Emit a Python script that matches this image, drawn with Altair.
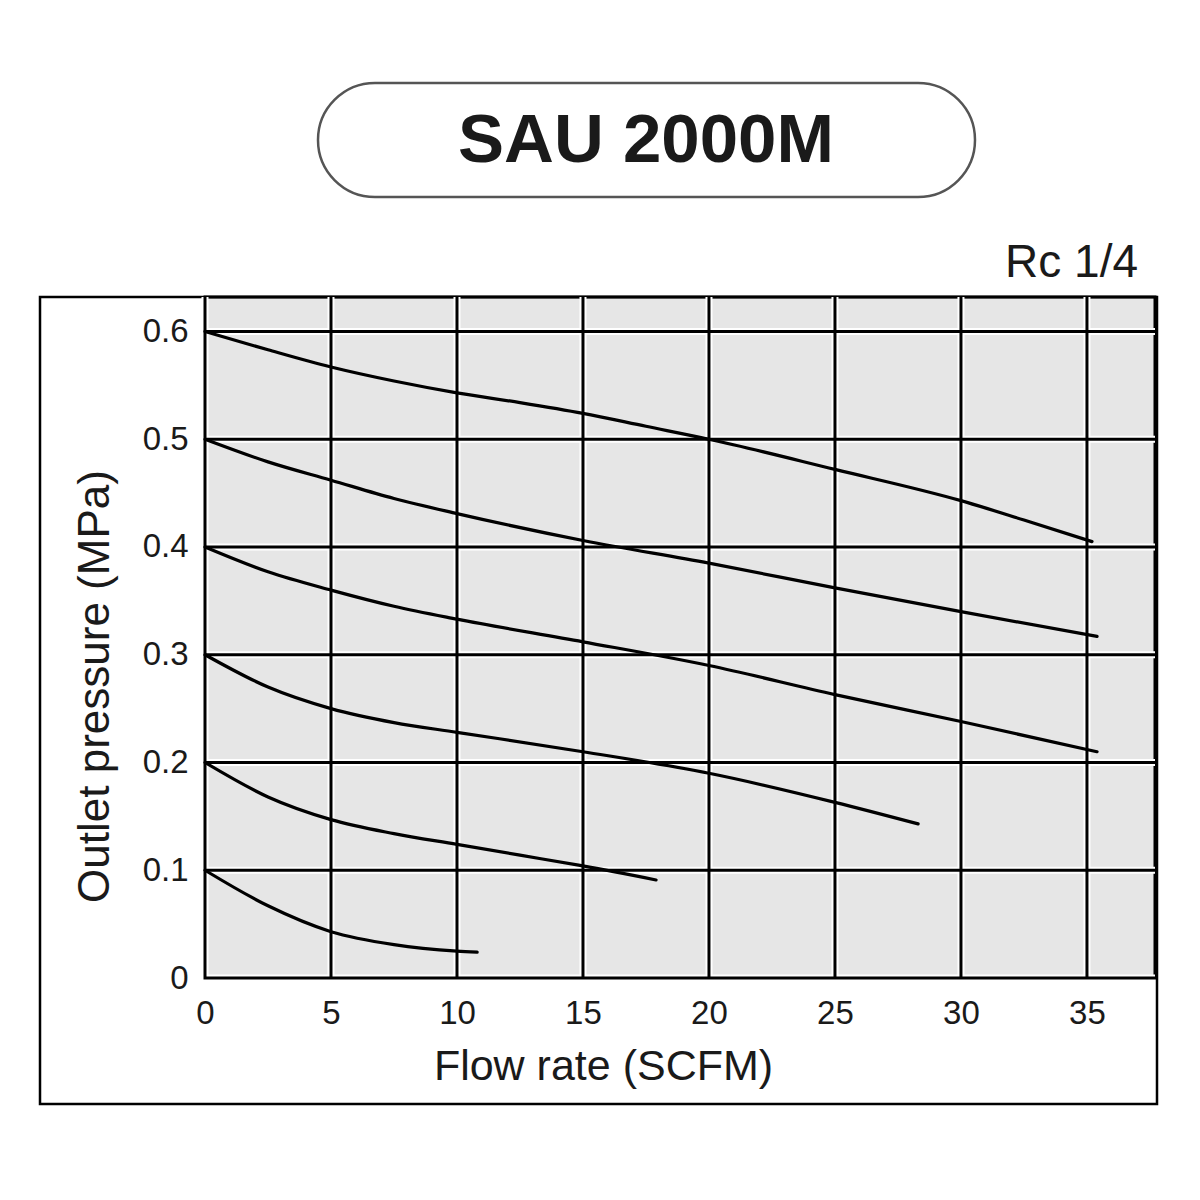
import altair as alt
import pandas as pd

# ---- data ----
x_ticks = [0, 5, 10, 15, 20, 25, 30, 35]
y_ticks = [0, 0.1, 0.2, 0.3, 0.4, 0.5, 0.6]

c06_x = [0, 2.5, 5, 7.5, 10, 12.5, 15, 17.5, 20, 25, 30, 32.5, 35.2]
c06_y = [0.6, 0.583, 0.567, 0.554, 0.543, 0.534, 0.524, 0.512, 0.5, 0.472, 0.443, 0.425, 0.405]
c05_x = [0, 2.5, 5, 7.5, 10, 15, 20, 25, 30, 35.4]
c05_y = [0.5, 0.479, 0.462, 0.445, 0.431, 0.406, 0.385, 0.362, 0.34, 0.317]
c04_x = [0, 2.5, 5, 7.5, 10, 15, 20, 25, 30, 35.4]
c04_y = [0.4, 0.377, 0.36, 0.345, 0.333, 0.312, 0.29, 0.263, 0.238, 0.21]
c03_x = [0, 2.5, 5, 7.5, 10, 15, 20, 25, 28.3]
c03_y = [0.3, 0.27, 0.25, 0.237, 0.228, 0.21, 0.19, 0.163, 0.143]
c02_x = [0, 2.5, 5, 7.5, 10, 12.5, 15, 17.9]
c02_y = [0.2, 0.168, 0.147, 0.134, 0.124, 0.114, 0.104, 0.091]
c01_x = [0, 2.5, 5, 7.5, 10, 10.8]
c01_y = [0.1, 0.067, 0.043, 0.031, 0.025, 0.024]

curves = {
    "0.6": (c06_x, c06_y),
    "0.5": (c05_x, c05_y),
    "0.4": (c04_x, c04_y),
    "0.3": (c03_x, c03_y),
    "0.2": (c02_x, c02_y),
    "0.1": (c01_x, c01_y),
}

title_text = "SAU 2000M"
port_text = "Rc 1/4"
x_title = "Flow rate (SCFM)"
y_title = "Outlet pressure (MPa)"

rows = []
for name, (xs, ys) in curves.items():
    for i, (xv, yv) in enumerate(zip(xs, ys)):
        rows.append({"curve": name, "x": xv, "y": yv, "order": i})
df = pd.DataFrame(rows)

FONT = "Liberation Sans"
W, H = 950, 681

xscale = alt.Scale(domain=[0, 37.7], nice=False, zero=False)
yscale = alt.Scale(domain=[0, 0.632], nice=False, zero=False)

xaxis = alt.Axis(values=x_ticks, title=x_title, grid=False, domain=False, ticks=False,
                 labelFontSize=33, labelPadding=19, labelFont=FONT, labelColor="#1a1a1a",
                 labelFlush=False,
                 titleFont=FONT, titleFontSize=43, titleFontWeight="normal", titleColor="#1a1a1a",
                 titleX=398, titleY=88, titleAlign="center", titleBaseline="middle",
                 labelExpr="format(datum.value, 'd')")
yaxis = alt.Axis(values=y_ticks, title=y_title, grid=False, domain=False, ticks=False,
                 labelFontSize=33, labelPadding=17, labelFont=FONT, labelColor="#1a1a1a",
                 labelFlush=False,
                 titleFont=FONT, titleFontSize=44, titleFontWeight="normal", titleColor="#1a1a1a",
                 titleX=-110, titleY=389, titleAlign="center", titleBaseline="middle",
                 titleAngle=-90,
                 labelExpr="datum.value == 0 ? '0' : format(datum.value, '.1f')")

one = alt.Data(values=[{}])

pill = alt.Chart(one).mark_rect(cornerRadius=57, fill="white", stroke="#555555",
                                strokeWidth=2.5).encode(
    x=alt.value(113), x2=alt.value(770), y=alt.value(-214), y2=alt.value(-100))

title = alt.Chart(one).mark_text(text=title_text, font=FONT, fontSize=69, fontWeight="bold",
                                 color="#1a1a1a", align="center", baseline="middle").encode(
    x=alt.value(441), y=alt.value(-156))

port = alt.Chart(one).mark_text(text=port_text, font=FONT, fontSize=46, color="#1a1a1a",
                                align="right", baseline="alphabetic").encode(
    x=alt.value(933), y=alt.value(-20))

frame = alt.Chart(one).mark_rect(fillOpacity=0, stroke="black", strokeWidth=2.5).encode(
    x=alt.value(-165), x2=alt.value(952), y=alt.value(0), y2=alt.value(807))

xg = pd.DataFrame({"x": x_ticks})
yg = pd.DataFrame({"y": y_ticks})

vgrid_w = alt.Chart(xg).mark_rule(color="white", strokeWidth=7).encode(
    x=alt.X("x:Q", scale=xscale, axis=xaxis))
hgrid_w = alt.Chart(yg).mark_rule(color="white", strokeWidth=7).encode(
    y=alt.Y("y:Q", scale=yscale, axis=yaxis))
vgrid = alt.Chart(xg).mark_rule(color="black", strokeWidth=3).encode(
    x=alt.X("x:Q", scale=xscale, axis=xaxis))
hgrid = alt.Chart(yg).mark_rule(color="black", strokeWidth=3).encode(
    y=alt.Y("y:Q", scale=yscale, axis=yaxis))

lines = alt.Chart(df).mark_line(color="black", strokeWidth=3.2, interpolate="monotone",
                                strokeCap="round").encode(
    x=alt.X("x:Q", scale=xscale, axis=xaxis),
    y=alt.Y("y:Q", scale=yscale, axis=yaxis),
    detail="curve:N",
    order="order:Q",
)

chart = alt.layer(pill, title, port, frame, vgrid_w, hgrid_w, vgrid, hgrid, lines).properties(
    width=W, height=H,
    autosize=alt.AutoSizeParams(type="none"),
    padding={"left": 197, "top": 289, "right": 30, "bottom": 150},
    background="white",
).configure_view(fill="#e6e6e6", stroke="black", strokeWidth=3)

chart.save("out.html", embed_options={"renderer": "svg", "actions": False})
